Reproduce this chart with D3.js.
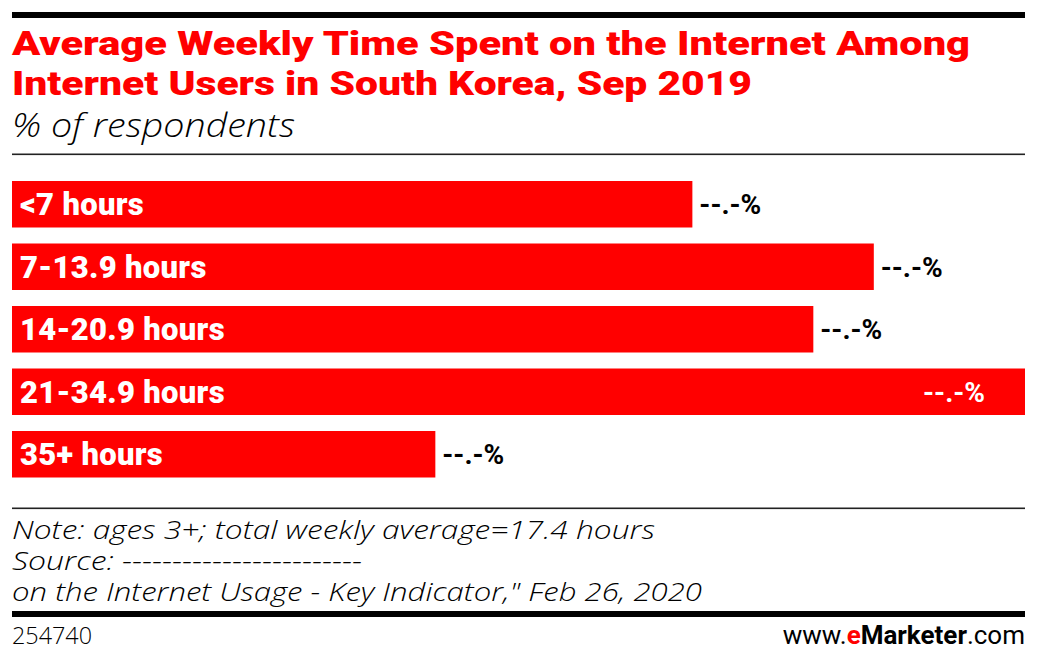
<html>
<head>
  <style>
    body {
      margin: 0px;
      padding: 0px;
      background-color: white;
    }
    svg {
      display: block;
    }
  </style>
</head>
<body>
  <div id="chart"></div>
  <script src="https://cdnjs.cloudflare.com/ajax/libs/d3/7.8.5/d3.min.js"></script>
  <script>
    // data (bar lengths, labels hidden in the original)
    var categories = ['<7 hours', '7-13.9 hours', '14-20.9 hours', '21-34.9 hours', '35+ hours'];
    var values = [18.0, 22.8, 21.2, 26.8, 11.2];
    var valueLabels = ['--.-%', '--.-%', '--.-%', '--.-%', '--.-%'];

    var titleLines = ['Average Weekly Time Spent on the Internet Among', 'Internet Users in South Korea, Sep 2019'];
    var subtitle = '% of respondents';
    var noteLines = ['Note: ages 3+; total weekly average=17.4 hours',
      'Source: ------------------------',
      'on the Internet Usage - Key Indicator," Feb 26, 2020'];
    var chartId = '254740';

    var W = 1038, H = 663,
      left = 12, right = 1025,
      red = '#ff0000';

    var svg = d3.select('#chart').append('svg')
      .attr('width', W)
      .attr('height', H);

    // rules
    svg.append('rect').attr('x', left).attr('y', 12).attr('width', right - left).attr('height', 6).attr('fill', 'black');
    svg.append('rect').attr('x', left).attr('y', 153.5).attr('width', right - left).attr('height', 1.6).attr('fill', '#222');
    svg.append('rect').attr('x', left).attr('y', 507.5).attr('width', right - left).attr('height', 1.6).attr('fill', '#222');
    svg.append('rect').attr('x', left).attr('y', 611).attr('width', right - left).attr('height', 6).attr('fill', 'black');

    // title
    var titleWidths = [958, 740];
    svg.selectAll('text.title')
      .data(titleLines)
      .enter()
      .append('text')
      .attr('class', 'title')
      .attr('x', left)
      .attr('y', function(d, i) { return 55 + i * 40; })
      .attr('textLength', function(d, i) { return titleWidths[i]; })
      .attr('lengthAdjust', 'spacingAndGlyphs')
      .attr('fill', red)
      .style('font-family', 'Roboto, "Liberation Sans", Arial, sans-serif')
      .style('font-weight', 900)
      .style('font-size', '34px')
      .text(function(d) { return d; });

    svg.append('text')
      .attr('x', left)
      .attr('y', 137)
      .attr('textLength', 283)
      .attr('lengthAdjust', 'spacingAndGlyphs')
      .style('font-family', '"Open Sans", "Noto Sans", sans-serif')
      .style('font-style', 'italic')
      .style('font-weight', 300)
      .style('font-size', '33px')
      .text(subtitle);

    // bars
    var x = d3.scaleLinear()
      .domain([0, d3.max(values)])
      .range([left, right]);

    var y = d3.scaleBand()
      .domain(categories)
      .range([173, 485.5])
      .paddingInner(0.256)
      .paddingOuter(0.128);

    var rows = categories.map(function(c, i) {
      return { cat: c, val: values[i], label: valueLabels[i] };
    });

    svg.selectAll('rect.bar')
      .data(rows)
      .enter()
      .append('rect')
      .attr('class', 'bar')
      .attr('x', x(0))
      .attr('y', function(d) { return y(d.cat); })
      .attr('width', function(d) { return x(d.val) - x(0); })
      .attr('height', y.bandwidth())
      .attr('fill', red);

    svg.selectAll('text.cat')
      .data(rows)
      .enter()
      .append('text')
      .attr('class', 'cat')
      .attr('x', left + 8)
      .attr('y', function(d) { return y(d.cat) + y.bandwidth() / 2 + 11; })
      .attr('fill', 'white')
      .style('font-family', 'Roboto, "Liberation Sans", Arial, sans-serif')
      .style('font-weight', 900)
      .style('font-size', '31px')
      .style('letter-spacing', '0.3px')
      .text(function(d) { return d.cat; });

    svg.selectAll('text.val')
      .data(rows)
      .enter()
      .append('text')
      .attr('class', 'val')
      .each(function(d) {
        var inside = x(d.val) + 70 > right;
        d3.select(this)
          .attr('x', inside ? x(d.val) - 40 : x(d.val) + 7)
          .attr('text-anchor', inside ? 'end' : 'start')
          .attr('fill', inside ? 'white' : 'black');
      })
      .attr('y', function(d) { return y(d.cat) + y.bandwidth() / 2 + 10; })
      .style('font-family', 'Roboto, "Liberation Sans", Arial, sans-serif')
      .style('font-weight', 700)
      .style('font-size', '28px')
      .text(function(d) { return d.label; });

    // notes
    var noteWidths = [643, 350, 690];
    svg.selectAll('text.note')
      .data(noteLines)
      .enter()
      .append('text')
      .attr('class', 'note')
      .attr('x', left)
      .attr('y', function(d, i) { return 539 + i * 31; })
      .attr('textLength', function(d, i) { return noteWidths[i]; })
      .attr('lengthAdjust', 'spacingAndGlyphs')
      .style('font-family', '"Open Sans", "Noto Sans", sans-serif')
      .style('font-style', 'italic')
      .style('font-weight', 300)
      .style('font-size', '25px')
      .text(function(d) { return d; });

    // footer
    svg.append('text')
      .attr('x', left)
      .attr('y', 644)
      .attr('textLength', 80)
      .attr('lengthAdjust', 'spacingAndGlyphs')
      .style('font-family', '"Open Sans", "Noto Sans", sans-serif')
      .style('font-weight', 300)
      .style('font-size', '24px')
      .text(chartId);

    var brand = svg.append('text')
      .attr('x', right)
      .attr('y', 644)
      .attr('text-anchor', 'end')
      .style('font-family', 'Roboto, "Liberation Sans", Arial, sans-serif')
      .style('font-size', '26px');
    brand.append('tspan').text('www.');
    brand.append('tspan').attr('fill', red).style('font-weight', 700).text('e');
    brand.append('tspan').style('font-weight', 700).text('Marketer');
    brand.append('tspan').text('.com');
  </script>
</body>
</html>
